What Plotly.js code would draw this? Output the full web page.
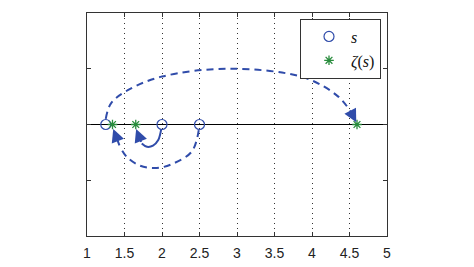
<!DOCTYPE html>
<html>
<head>
<meta charset="utf-8">
<script src="https://cdn.plot.ly/plotly-3.0.1.min.js"></script>
<style>html,body{margin:0;padding:0;background:#fff;}#chart{width:474px;height:267px;}</style>
</head>
<body>
<div id="chart"></div>
<script>
// Data: points s and their zeta values
var sValues = [1.25, 2.0, 2.5];
var zetaValues = [4.6, 1.65, 1.34];
var xTicks = [1, 1.5, 2, 2.5, 3, 3.5, 4, 4.5, 5];
var xTickLabels = ['1', '1.5', '2', '2.5', '3', '3.5', '4', '4.5', '5'];

// Arc guide points mapping s -> zeta(s)
var arcUpperX = [1.25, 1.32, 1.55, 2.0, 2.9, 3.9, 4.35, 4.52];
var arcUpperY = [0.05, 0.19, 0.31, 0.43, 0.5, 0.42, 0.25, 0.11];
var arcLowerX = [2.49, 2.40, 2.15, 1.93, 1.71, 1.53, 1.44];
var arcLowerY = [-0.05, -0.24, -0.35, -0.39, -0.37, -0.29, -0.20];
var arcSmallX = [1.99, 1.95, 1.88, 1.80, 1.73];
var arcSmallY = [-0.04, -0.14, -0.19, -0.20, -0.17];

// Arrow tails and tips
var arrowTailX = [4.52, 1.44, 1.73];
var arrowTailY = [0.11, -0.20, -0.17];
var arrowTipX = [4.59, 1.35, 1.655];
var arrowTipY = [0.02, -0.04, -0.04];

var blue = 'rgb(48,76,170)';
var green = 'rgb(40,140,60)';

var traces = [
  {x: arcUpperX, y: arcUpperY, mode: 'lines', line: {color: blue, width: 2, dash: '7px,5px', shape: 'spline', smoothing: 1}, showlegend: false, hoverinfo: 'skip'},
  {x: arcLowerX, y: arcLowerY, mode: 'lines', line: {color: blue, width: 2, dash: '7px,5px', shape: 'spline', smoothing: 1}, showlegend: false, hoverinfo: 'skip'},
  {x: arcSmallX, y: arcSmallY, mode: 'lines', line: {color: blue, width: 2, shape: 'spline', smoothing: 1}, showlegend: false, hoverinfo: 'skip'},
  {x: sValues, y: sValues.map(function(){return 0;}), mode: 'markers', name: '<i>s</i>',
   marker: {symbol: 'circle-open', size: 10, color: blue, line: {width: 1.2, color: blue}}},
  {x: zetaValues, y: zetaValues.map(function(){return 0;}), mode: 'markers', name: '<i>\u03b6</i>(<i>s</i>)',
   marker: {symbol: 'asterisk-open', size: 8, color: green, line: {width: 1.3, color: green}}}
];

var annotations = arrowTipX.map(function(x, i){
  return {x: x, y: arrowTipY[i], ax: arrowTailX[i], ay: arrowTailY[i], xref: 'x', yref: 'y', axref: 'x', ayref: 'y',
    text: '', showarrow: true, arrowhead: 2, arrowsize: 1.3, arrowwidth: 2, arrowcolor: blue, standoff: 0, startstandoff: 0};
});

var layout = {
  width: 474, height: 267,
  margin: {l: 87, r: 87, t: 13, b: 31, pad: 0},
  paper_bgcolor: '#fff', plot_bgcolor: '#fff',
  showlegend: true,
  legend: {x: 0.98, y: 0.975, xanchor: 'right', yanchor: 'top', bgcolor: '#fff', bordercolor: '#333', borderwidth: 1,
    font: {family: 'Liberation Serif, DejaVu Serif, serif', size: 16, color: '#111'}, tracegroupgap: 0, itemwidth: 34, indentation: 6},
  xaxis: {range: [1, 5], tickvals: xTicks, ticktext: xTickLabels, showgrid: true, griddash: '1px,4px', gridcolor: '#333', gridwidth: 1,
    showline: true, mirror: 'ticks', linecolor: '#333', linewidth: 1, ticks: 'inside', ticklen: 4, tickcolor: '#333',
    zeroline: false, ticklabelstandoff: 4, tickfont: {family: 'Liberation Sans, Arial, sans-serif', size: 14, color: '#222'}, fixedrange: true},
  yaxis: {range: [-1, 1], tickvals: [-0.5, 0, 0.5], showticklabels: false, showgrid: false,
    showline: true, mirror: 'ticks', linecolor: '#333', linewidth: 1, ticks: 'inside', ticklen: 4, tickcolor: '#333',
    zeroline: true, zerolinecolor: '#000', zerolinewidth: 1.5, fixedrange: true},
  annotations: annotations
};

Plotly.newPlot('chart', traces, layout, {displayModeBar: false, staticPlot: true});
</script>
</body>
</html>
